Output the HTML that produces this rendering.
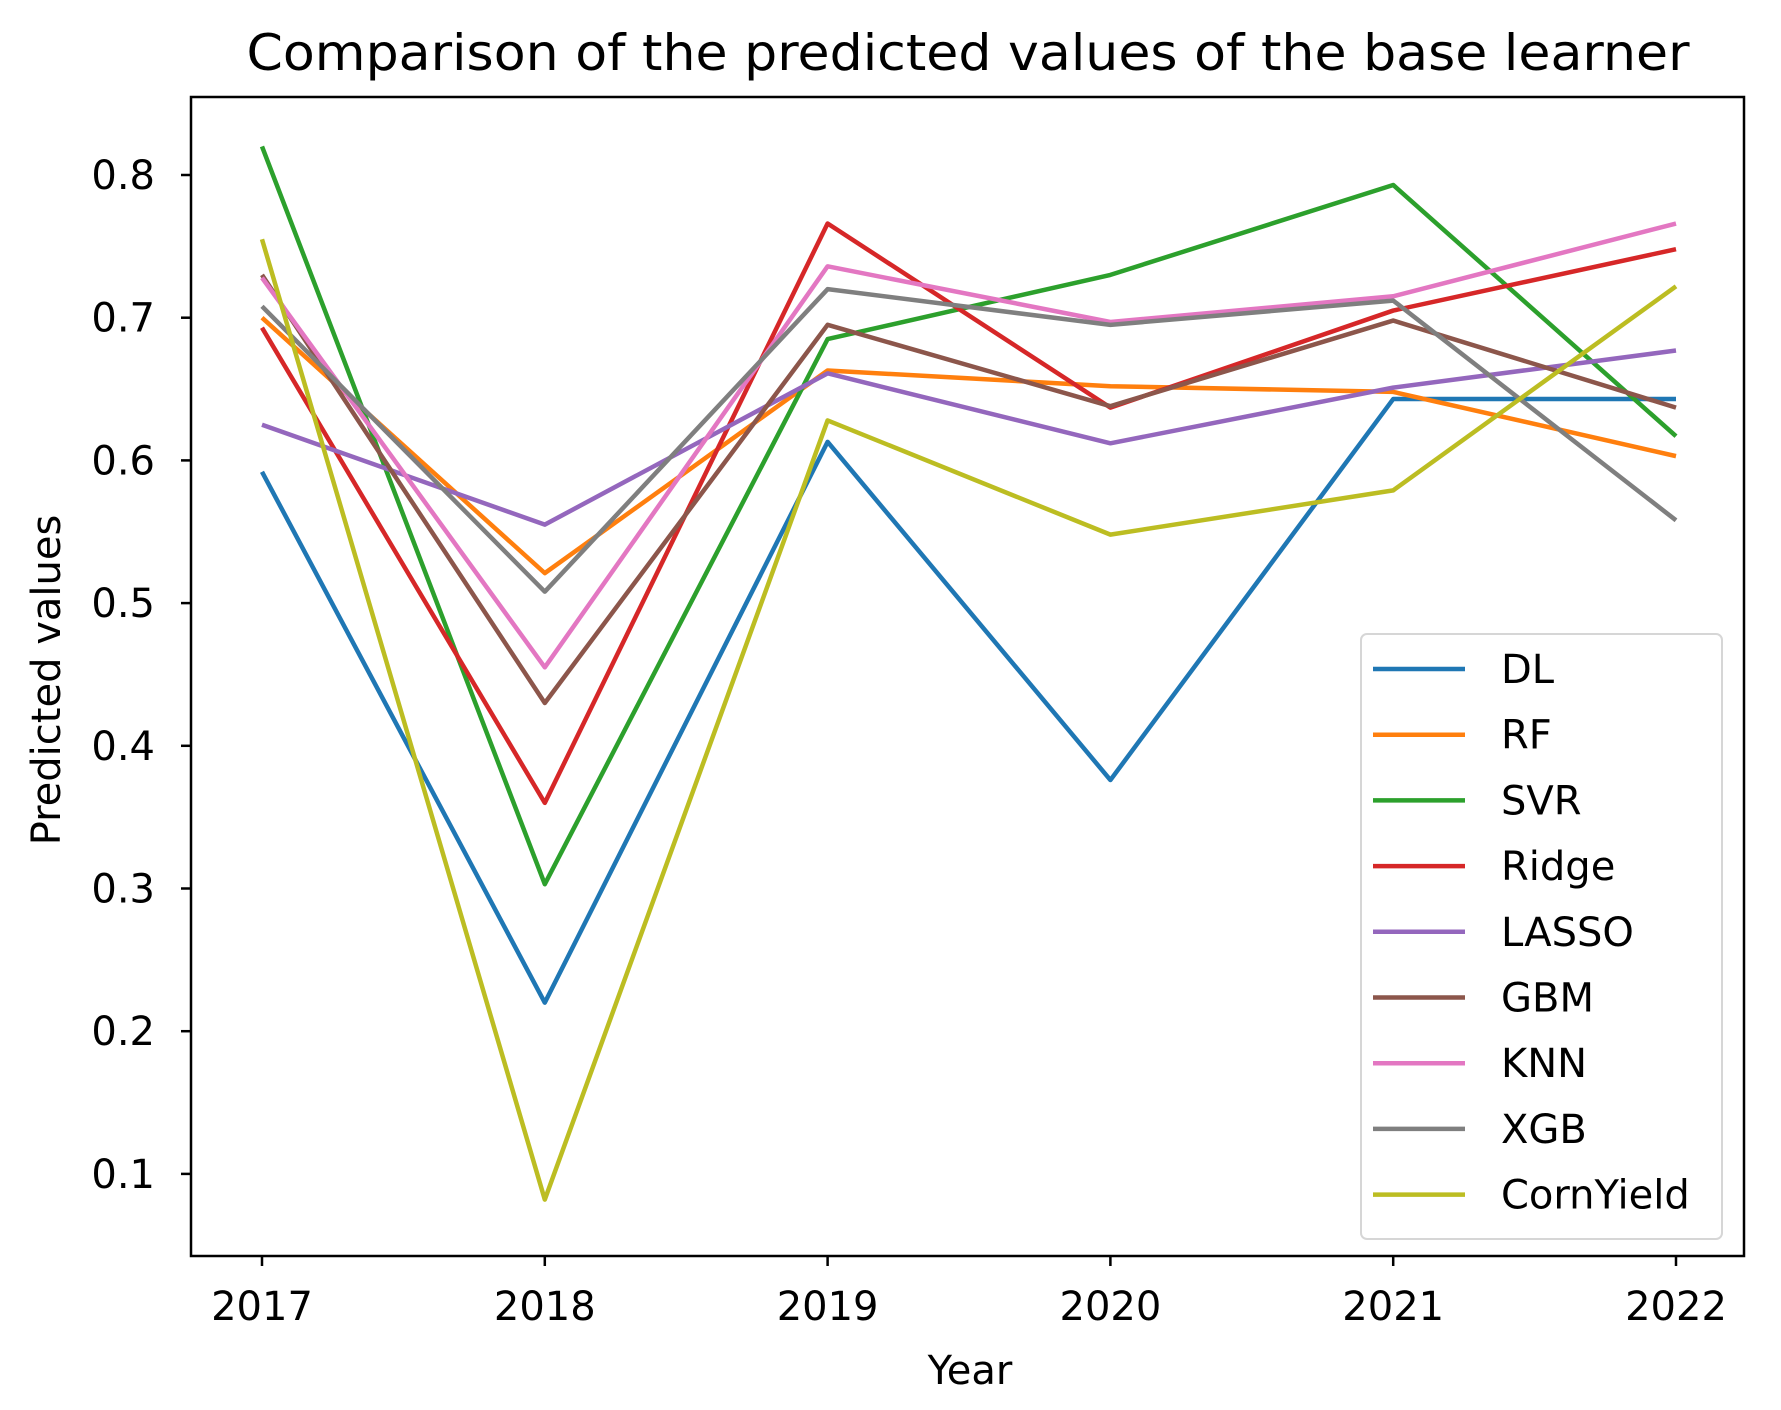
<!DOCTYPE html>
<html><head><meta charset="utf-8"><style>html,body{margin:0;padding:0;background:#fff}</style></head>
<body>
<svg xmlns="http://www.w3.org/2000/svg" width="1781" height="1405" viewBox="0 0 1781 1405" font-family="DejaVu Sans, Liberation Sans, sans-serif">
<rect width="1781" height="1405" fill="#fff"/>
<text x="968" y="70" font-size="50" text-anchor="middle" textLength="1443" lengthAdjust="spacingAndGlyphs">Comparison of the predicted values of the base learner</text>
<g id="lines" fill="none" stroke-width="4.5" stroke-linejoin="round"></g>
<rect x="191" y="97" width="1553" height="1159" fill="none" stroke="#000" stroke-width="2.5"/>
<g id="ticks" stroke="#000" stroke-width="2.5"></g>
<g id="labels" font-size="40" fill="#000"></g>
<text x="970" y="1384" font-size="40" text-anchor="middle">Year</text>
<text transform="translate(60,680) rotate(-90)" font-size="40" text-anchor="middle">Predicted values</text>
<rect x="1361" y="634" width="361" height="605" rx="6" fill="#fff" fill-opacity="0.85" stroke="#d6d6d6" stroke-width="2"/>
<g id="legend" font-size="40"></g>
<script>
var X=function(i){return 262+i*282.8}, Y=function(v){return 175+(0.8-v)*1427};
var S=[["DL","#1f77b4",[.592,.22,.613,.376,.643,.643]],
["RF","#ff7f0e",[.70,.521,.663,.652,.648,.603]],
["SVR","#2ca02c",[.82,.303,.685,.73,.793,.617]],
["Ridge","#d62728",[.693,.36,.766,.637,.705,.748]],
["LASSO","#9467bd",[.625,.555,.661,.612,.651,.677]],
["GBM","#8c564b",[.73,.43,.695,.638,.698,.637]],
["KNN","#e377c2",[.728,.455,.736,.697,.715,.766]],
["XGB","#7f7f7f",[.708,.508,.72,.695,.712,.558]],
["CornYield","#bcbd22",[.755,.082,.628,.548,.579,.722]]];
var ns="http://www.w3.org/2000/svg";
function el(p,t,a,txt){var e=document.createElementNS(ns,t);for(var k in a)e.setAttribute(k,a[k]);if(txt)e.textContent=txt;p.appendChild(e);return e;}
var L=document.getElementById("lines"),T=document.getElementById("ticks"),B=document.getElementById("labels"),G=document.getElementById("legend");
S.forEach(function(s,j){
 el(L,"polyline",{points:s[2].map(function(v,i){return X(i)+","+Y(v)}).join(" "),stroke:s[1]});
 var y=669+j*65.7;
 el(G,"line",{x1:1373,x2:1465,y1:y,y2:y,stroke:s[1],"stroke-width":4.5});
 el(G,"text",{x:1501,y:y+14},s[0]);
});
for(var i=0;i<6;i++){el(T,"line",{x1:X(i),x2:X(i),y1:1256,y2:1266});el(B,"text",{x:X(i),y:1320,"text-anchor":"middle"},String(2017+i));}
for(var k=1;k<=8;k++){var v=k/10,y=Y(v);el(T,"line",{x1:181,x2:191,y1:y,y2:y});el(B,"text",{x:155,y:y+14,"text-anchor":"end"},v.toFixed(1));}
</script>
</svg>
</body></html>
